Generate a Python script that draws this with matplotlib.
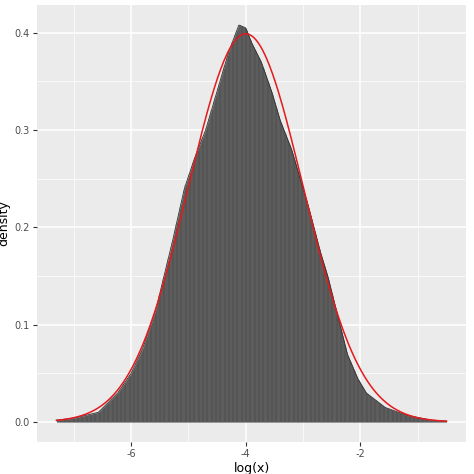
import numpy as np
import matplotlib
matplotlib.use("Agg")
import matplotlib.pyplot as plt

dens_x = [-7.3, -7.0, -6.57, -6.23, -6.0, -5.8, -5.57, -5.3, -5.07, -4.9, -4.7, -4.5, -4.3, -4.12, -4.0, -3.9, -3.73, -3.55, -3.4, -3.2, -2.9, -2.7, -2.57, -2.4, -2.23, -2.05, -1.9, -1.57, -1.2, -0.77, -0.5]
dens_y = [0.002, 0.004, 0.01, 0.03, 0.05, 0.075, 0.115, 0.18, 0.24, 0.27, 0.30, 0.34, 0.38, 0.408, 0.405, 0.39, 0.37, 0.34, 0.31, 0.28, 0.22, 0.175, 0.15, 0.11, 0.07, 0.045, 0.03, 0.015, 0.007, 0.002, 0.001]
# overlaid normal curve parameters
norm_mean = -4.0
norm_sd = 1.0

fig = plt.figure(figsize=(4.74, 4.74), dpi=100)
ax = fig.add_axes([37/474, 32/474, 429/474, 437/474])
ax.set_facecolor('#EBEBEB')
for s in ax.spines.values():
    s.set_visible(False)

xs = np.linspace(min(dens_x), max(dens_x), 600)
ys = np.interp(xs, dens_x, dens_y)
ax.fill_between(xs, 0, ys, color='#4a4a4a', lw=0, zorder=2)
ax.vlines(xs[::2], 0, ys[::2], color='#7a7a7a', lw=0.35, zorder=3)
ax.plot(xs, ys, color='#333333', lw=0.6, zorder=3)

nx = np.linspace(-7.3, -0.5, 400)
ny = np.exp(-0.5 * ((nx - norm_mean) / norm_sd) ** 2) / (norm_sd * np.sqrt(2 * np.pi))
ax.plot(nx, ny, color='#E41A1C', lw=1.1, zorder=4)

ax.set_xlim(-7.64, -0.16)
ax.set_ylim(-0.0205, 0.4285)
ax.set_xticks([-6, -4, -2])
ax.set_xticklabels(['-6', '-4', '-2'])
ax.set_yticks([0, 0.1, 0.2, 0.3, 0.4])
ax.set_yticklabels(['0.0', '0.1', '0.2', '0.3', '0.4'])
ax.set_xticks([-7, -5, -3, -1], minor=True)
ax.set_yticks([0.05, 0.15, 0.25, 0.35], minor=True)
ax.grid(True, which='major', color='white', lw=1.1, zorder=0)
ax.grid(True, which='minor', color='white', lw=0.5, zorder=0)
ax.set_axisbelow(True)
ax.tick_params(which='major', length=3, color='#333333', labelsize=7, labelcolor='#4D4D4D', pad=2)
ax.tick_params(which='minor', length=0)
ax.set_xlabel('log(x)', fontsize=9, labelpad=2)
ax.set_ylabel('density', fontsize=9, labelpad=3)
fig.savefig('out.png', dpi=100)
